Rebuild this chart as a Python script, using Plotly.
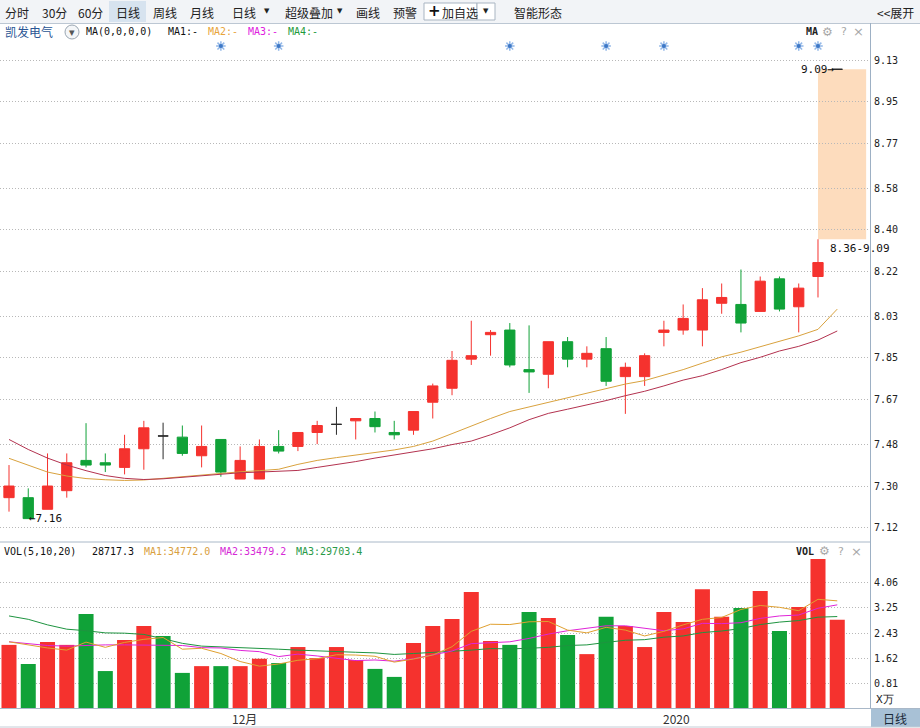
import plotly.graph_objects as go

W, H = 920, 728

# ------------------------------------------------------------------ data
bar_index = list(range(44))
opens  = [7.25, 7.25, 7.20, 7.28, 7.41, 7.40, 7.38, 7.46, 7.515, 7.51, 7.43, 7.50, 7.33, 7.33, 7.47,
          7.47, 7.53, 7.565, 7.58, 7.59, 7.53, 7.54, 7.66, 7.72, 7.845, 7.95, 7.97, 7.80, 7.78, 7.92,
          7.845, 7.89, 7.77, 7.77, 7.96, 7.97, 7.97, 8.085, 8.08, 8.05, 8.19, 8.07, 8.20, 9.09]
highs  = [7.39, 7.29, 7.44, 7.44, 7.57, 7.44, 7.52, 7.58, 7.572, 7.56, 7.56, 7.50, 7.47, 7.50, 7.54,
          7.53, 7.58, 7.64, 7.59, 7.62, 7.58, 7.62, 7.74, 7.88, 8.01, 7.97, 8.00, 7.99, 7.92, 7.94,
          7.90, 7.94, 7.83, 7.87, 8.01, 8.08, 8.15, 8.17, 8.23, 8.20, 8.20, 8.17, 8.36, 9.09]
lows   = [7.19, 7.16, 7.20, 7.25, 7.38, 7.36, 7.35, 7.37, 7.415, 7.43, 7.38, 7.34, 7.33, 7.33, 7.44,
          7.45, 7.48, 7.52, 7.50, 7.53, 7.50, 7.52, 7.59, 7.69, 7.82, 7.86, 7.81, 7.70, 7.72, 7.81,
          7.81, 7.73, 7.61, 7.73, 7.90, 7.95, 7.90, 8.04, 7.96, 8.05, 8.05, 7.96, 8.11, 9.09]
closes = [7.30, 7.16, 7.30, 7.40, 7.39, 7.39, 7.46, 7.55, 7.515, 7.44, 7.47, 7.36, 7.41, 7.47, 7.45,
          7.53, 7.56, 7.565, 7.59, 7.555, 7.52, 7.62, 7.73, 7.84, 7.86, 7.96, 7.82, 7.79, 7.92, 7.845,
          7.87, 7.75, 7.81, 7.86, 7.97, 8.02, 8.10, 8.11, 8.00, 8.18, 8.06, 8.15, 8.26, 9.09]

price_ma_a = [7.419, 7.39, 7.36, 7.343, 7.332, 7.327, 7.324, 7.326, 7.333, 7.34, 7.349, 7.357, 7.361,
              7.366, 7.372, 7.393, 7.41, 7.422, 7.433, 7.443, 7.455, 7.47, 7.493, 7.525, 7.558, 7.59,
              7.62, 7.64, 7.66, 7.68, 7.70, 7.718, 7.738, 7.753, 7.775, 7.80, 7.828, 7.855, 7.875,
              7.898, 7.92, 7.945, 7.973, 8.06]
price_ma_b = [7.50, 7.457, 7.42, 7.39, 7.366, 7.345, 7.333, 7.328, 7.331, 7.338, 7.344, 7.353, 7.357,
              7.360, 7.364, 7.367, 7.380, 7.392, 7.405, 7.42, 7.434, 7.445, 7.46, 7.478, 7.493, 7.52,
              7.55, 7.585, 7.612, 7.63, 7.648, 7.667, 7.688, 7.707, 7.73, 7.755, 7.774, 7.80, 7.83,
              7.853, 7.88, 7.90, 7.927, 7.966]

volume = [2.05, 1.43, 2.14, 2.05, 3.05, 1.20, 2.21, 2.66, 2.34, 1.14, 1.36, 1.36, 1.36, 1.60, 1.46,
          1.98, 1.62, 1.98, 1.56, 1.27, 1.01, 2.11, 2.66, 2.89, 3.77, 2.18, 2.05, 3.12, 2.92, 2.37,
          1.75, 2.96, 2.66, 1.98, 3.12, 2.79, 3.86, 2.96, 3.25, 3.80, 2.50, 3.28, 4.84, 2.87]
vol_ma5 = [2.15, 2.05, 1.95, 1.88, 2.14, 1.97, 2.13, 2.23, 2.29, 1.91, 1.94, 1.77, 1.51, 1.36, 1.43,
           1.55, 1.60, 1.73, 1.72, 1.68, 1.49, 1.59, 1.72, 1.99, 2.49, 2.72, 2.71, 2.80, 2.81, 2.53,
           2.44, 2.62, 2.53, 2.34, 2.49, 2.70, 2.88, 2.94, 3.20, 3.33, 3.27, 3.16, 3.53, 3.48]
vol_ma10 = [2.15, 2.08, 2.03, 2.01, 2.04, 2.05, 2.05, 2.05, 2.05, 2.03, 1.96, 1.95, 1.87, 1.83, 1.67,
            1.75, 1.69, 1.62, 1.54, 1.56, 1.52, 1.60, 1.73, 1.85, 2.09, 2.11, 2.15, 2.26, 2.40, 2.51,
            2.58, 2.67, 2.67, 2.58, 2.51, 2.57, 2.75, 2.74, 2.77, 2.91, 2.99, 3.02, 3.24, 3.35]
vol_ma20 = [2.99, 2.88, 2.70, 2.56, 2.51, 2.44, 2.43, 2.39, 2.25, 2.10, 2.01, 1.99, 1.97, 1.94, 1.91,
            1.88, 1.85, 1.83, 1.81, 1.79, 1.74, 1.77, 1.80, 1.84, 1.88, 1.93, 1.92, 1.94, 1.97, 2.03,
            2.05, 2.13, 2.20, 2.22, 2.30, 2.34, 2.45, 2.50, 2.58, 2.71, 2.79, 2.84, 2.95, 2.97]

signal_index = [11, 14, 26, 31, 34, 41, 42]

price_ticks = [7.12, 7.30, 7.48, 7.67, 7.85, 8.03, 8.22, 8.40, 8.58, 8.77, 8.95, 9.13]
vol_ticks = [0.81, 1.62, 2.43, 3.25, 4.06]
month_labels = [(12, "12月", 4), (34, "2020", 13)]
gap_low, gap_high = 8.36, 9.09
low_label = (1, 7.16)
high_label = (43, 9.09)

toolbar_items = ["分时", "30分", "60分", "日线", "周线", "月线", "日线", "超级叠加", "画线", "预警", "加自选", "智能形态"]

# ------------------------------------------------------------------ style
UP = "#F5322E"
DN = "#10A238"
DOJI = "#2A2A2A"
CJK = "Noto Sans CJK SC"
MONO = "DejaVu Sans Mono"
AXC = "#9DB0C4"
GRID = "#B8B8B8"

PLOT_R = 870  # px right edge of plot area
X_RANGE = [-0.467, 44.70]


def px(x):
    return x / W


def py(y):
    return 1 - y / H


fig = go.Figure()

# candles
is_doji = [o == c for o, c in zip(opens, closes)]
main_i = [i for i in bar_index if not is_doji[i]]
doji_i = [i for i in bar_index if is_doji[i]]

fig.add_trace(go.Candlestick(
    x=main_i,
    open=[opens[i] for i in main_i], high=[highs[i] for i in main_i],
    low=[lows[i] for i in main_i], close=[closes[i] for i in main_i],
    increasing=dict(line=dict(color=UP, width=1), fillcolor=UP),
    decreasing=dict(line=dict(color=DN, width=1), fillcolor=DN),
    xaxis="x", yaxis="y", showlegend=False, hoverinfo="skip"))
fig.add_trace(go.Candlestick(
    x=doji_i,
    open=[opens[i] for i in doji_i], high=[highs[i] for i in doji_i],
    low=[lows[i] for i in doji_i], close=[closes[i] for i in doji_i],
    increasing=dict(line=dict(color=DOJI, width=1), fillcolor=DOJI),
    decreasing=dict(line=dict(color=DOJI, width=1), fillcolor=DOJI),
    xaxis="x", yaxis="y", showlegend=False, hoverinfo="skip"))

fig.add_trace(go.Scatter(x=bar_index, y=price_ma_a, mode="lines",
                         line=dict(color="#D9A23E", width=1), xaxis="x", yaxis="y",
                         showlegend=False, hoverinfo="skip"))
fig.add_trace(go.Scatter(x=bar_index, y=price_ma_b, mode="lines",
                         line=dict(color="#B3324F", width=1), xaxis="x", yaxis="y",
                         showlegend=False, hoverinfo="skip"))

# signal markers
SIGNAL_Y = 9.19
fig.add_trace(go.Scatter(x=signal_index, y=[SIGNAL_Y] * len(signal_index), mode="markers",
                         marker=dict(symbol="asterisk-open", size=8, color="#93B8E8",
                                     line=dict(color="#93B8E8", width=1.5)),
                         xaxis="x", yaxis="y", showlegend=False, hoverinfo="skip"))
fig.add_trace(go.Scatter(x=signal_index, y=[SIGNAL_Y] * len(signal_index), mode="markers",
                         marker=dict(symbol="circle", size=4, color="#3E78C6", line=dict(width=0)),
                         xaxis="x", yaxis="y", showlegend=False, hoverinfo="skip"))

# volume
vol_colors = []
for i in bar_index:
    if closes[i] > opens[i]:
        vol_colors.append(UP)
    elif closes[i] < opens[i]:
        vol_colors.append(DN)
    else:
        vol_colors.append(UP if i == 0 or closes[i] >= closes[i - 1] else DN)
fig.add_trace(go.Bar(x=bar_index, y=volume, width=0.78, marker=dict(color=vol_colors, line=dict(width=0)),
                     xaxis="x2", yaxis="y2", showlegend=False, hoverinfo="skip"))
for series, col in ((vol_ma20, "#1E9440"), (vol_ma10, "#E024D8"), (vol_ma5, "#E0A030")):
    fig.add_trace(go.Scatter(x=bar_index, y=series, mode="lines", line=dict(color=col, width=1),
                             xaxis="x2", yaxis="y2", showlegend=False, hoverinfo="skip"))

# ------------------------------------------------------------------ shapes
shapes = []


def rect(x0, y0, x1, y1, fill, line=None, layer="below"):
    shapes.append(dict(type="rect", xref="paper", yref="paper", x0=px(x0), x1=px(x1), y0=py(y1), y1=py(y0),
                       fillcolor=fill, line=dict(color=line or fill, width=1 if line else 0), layer=layer))


def hline(y, x0, x1, color, width=1):
    shapes.append(dict(type="line", xref="paper", yref="paper", x0=px(x0), x1=px(x1), y0=py(y), y1=py(y),
                       line=dict(color=color, width=width), layer="above"))


def vline(x, y0, y1, color, width=1):
    shapes.append(dict(type="line", xref="paper", yref="paper", x0=px(x), x1=px(x), y0=py(y0), y1=py(y1),
                       line=dict(color=color, width=width), layer="above"))


# toolbar
rect(0, 0, W, 23, "#F2F4F7")
hline(23.5, 0, W, "#BCC7D3")
rect(109, 1, 146, 22, "#D7E3EF")
rect(424, 3, 477, 20, "#FFFFFF", "#A9B5C2")
rect(477, 3, 495, 20, "#FFFFFF", "#A9B5C2")
# dropdown circle
shapes.append(dict(type="circle", xref="paper", yref="paper", x0=px(65), x1=px(79), y0=py(39), y1=py(25),
                   line=dict(color="#9AA6B2", width=1), fillcolor="#F4F6F8", layer="above"))
# panel separators and axis line
hline(542, 0, PLOT_R, "#A9B8C8")
vline(PLOT_R + 0.5, 23, 708, AXC)
hline(708.5, 0, W, "#A9B8C8")
hline(727, 0, W, "#C4CDD6")
rect(871, 709, W, 727, "#A8C1D6")
# price gap zone
shapes.append(dict(type="rect", xref="x", yref="y", x0=42, x1=44.5, y0=gap_low, y1=gap_high,
                   fillcolor="#FDDCBD", line=dict(width=0), layer="below"))

# ------------------------------------------------------------------ annotations
anns = []


def txt(x, y, s, color="#222222", size=12, family=CJK, xanchor="left", yanchor="middle"):
    anns.append(dict(x=px(x), y=py(y), xref="paper", yref="paper", text=s, showarrow=False,
                     font=dict(family=family, size=size, color=color), xanchor=xanchor, yanchor=yanchor))


tb_x = [3, 40, 76, 114, 151, 188, 230, 283, 354, 391, 440, 512]
for xx, s in zip(tb_x, toolbar_items):
    txt(xx, 12, s)
txt(262, 11.5, "▼", size=7, family="DejaVu Sans")
txt(335, 11.5, "▼", size=7, family="DejaVu Sans")
txt(481, 11.5, "▼", size=7, family="DejaVu Sans")
txt(426, 11, "<b>+</b>", size=15, family="DejaVu Sans", color="#111111")
txt(875, 12, "<<展开")

# legend row
txt(3, 32, "凯发电气", color="#2A5594")
txt(72, 32.5, "▾", size=11, family="DejaVu Sans", color="#555555", xanchor="center")
txt(84, 32, "MA(0,0,0,0)", size=10, family=MONO, color="#111111")
txt(166, 32, "MA1:-", size=10, family=MONO, color="#111111")
txt(206, 32, "MA2:-", size=10, family=MONO, color="#E8A43A")
txt(246, 32, "MA3:-", size=10, family=MONO, color="#E020DE")
txt(286, 32, "MA4:-", size=10, family=MONO, color="#1E9A3A")
txt(804, 32, "<b>MA</b>", size=10, family=MONO, color="#222222")
txt(827, 32, "⚙", size=12, family="DejaVu Sans", color="#A8A8A8", xanchor="center")
txt(844, 32, "?", size=11, family="DejaVu Sans", color="#A8A8A8", xanchor="center")
txt(858, 32, "×", size=13, family="DejaVu Sans", color="#A8A8A8", xanchor="center")

# vol legend row
txt(2, 551, "VOL(5,10,20)", size=10, family=MONO, color="#111111")
txt(90, 551, "28717.3", size=10, family=MONO, color="#111111")
txt(142, 551, "MA1:34772.0", size=10, family=MONO, color="#D9A040")
txt(218, 551, "MA2:33479.2", size=10, family=MONO, color="#D62AD6")
txt(294, 551, "MA3:29703.4", size=10, family=MONO, color="#2A9A48")
txt(794, 551, "<b>VOL</b>", size=10, family=MONO, color="#222222")
txt(824, 551, "⚙", size=12, family="DejaVu Sans", color="#A8A8A8", xanchor="center")
txt(841, 551, "?", size=11, family="DejaVu Sans", color="#A8A8A8", xanchor="center")
txt(856, 551, "×", size=13, family="DejaVu Sans", color="#A8A8A8", xanchor="center")

txt(874, 699, "X万", size=11, family=MONO, color="#222222")
txt(895, 718, "日线", size=12, color="#1A2A3A", xanchor="center")

# data-anchored labels
anns.append(dict(x=low_label[0], y=low_label[1], xref="x", yref="y", text="←" + f"{low_label[1]:.2f}",
                 showarrow=False, xanchor="left", yanchor="middle", xshift=-1,
                 font=dict(family=MONO, size=11, color="#111111")))
anns.append(dict(x=high_label[0], y=high_label[1], xref="x", yref="y", text=f"{high_label[1]:.2f}" + "→",
                 showarrow=False, xanchor="right", yanchor="middle", xshift=-1,
                 font=dict(family=MONO, size=11, color="#111111")))
anns.append(dict(x=42, y=gap_low, xref="x", yref="y", text=f"{gap_low:.2f}-{gap_high:.2f}",
                 showarrow=False, xanchor="left", yanchor="top", xshift=10, yshift=-1,
                 font=dict(family=MONO, size=11, color="#111111")))
for xi, s, shift in month_labels:
    anns.append(dict(x=xi, y=py(718), xref="x2", yref="paper", text=s, showarrow=False,
                     xanchor="center", yanchor="middle", xshift=shift,
                     font=dict(family=CJK, size=12, color="#333333")))

# ------------------------------------------------------------------ layout
price_top, price_bot = 24, 541
vol_top, vol_bot = 543, 708
PX_PER_PRICE = 232.8
p_hi = 9.13 + (60 - price_top) / PX_PER_PRICE
p_lo = 9.13 - (price_bot - 60) / PX_PER_PRICE
PX_PER_VOL = 30.79
v_hi = (vol_bot - vol_top) / PX_PER_VOL

axis_common = dict(showgrid=True, gridcolor=GRID, griddash="1px,2px", gridwidth=1, zeroline=False,
                   side="right", showline=False, ticks="", fixedrange=True, ticklabelstandoff=3,
                   tickfont=dict(family=MONO, size=10, color="#222222"))

fig.update_layout(
    width=W, height=H, margin=dict(l=0, r=0, t=0, b=0),
    paper_bgcolor="#FFFFFF", plot_bgcolor="#FFFFFF",
    boxgap=0.24, showlegend=False, hovermode=False,
    xaxis=dict(domain=[0, PLOT_R / W], range=X_RANGE, anchor="y", showticklabels=False, showgrid=False,
               zeroline=False, showline=False, ticks="", rangeslider=dict(visible=False), fixedrange=True),
    yaxis=dict(domain=[py(price_bot), py(price_top)], range=[p_lo, p_hi], anchor="x",
               tickvals=price_ticks, ticktext=[f"{v:.2f}" for v in price_ticks], **axis_common),
    xaxis2=dict(domain=[0, PLOT_R / W], range=X_RANGE, anchor="y2", matches="x", showticklabels=False,
                showgrid=False, zeroline=False, showline=False, ticks="", rangeslider=dict(visible=False),
                fixedrange=True),
    yaxis2=dict(domain=[py(vol_bot), py(vol_top)], range=[0, v_hi], anchor="x2",
                tickvals=vol_ticks, ticktext=[f"{v:.2f}" for v in vol_ticks], **axis_common),
    shapes=shapes, annotations=anns,
)

fig.write_html("out.html")
